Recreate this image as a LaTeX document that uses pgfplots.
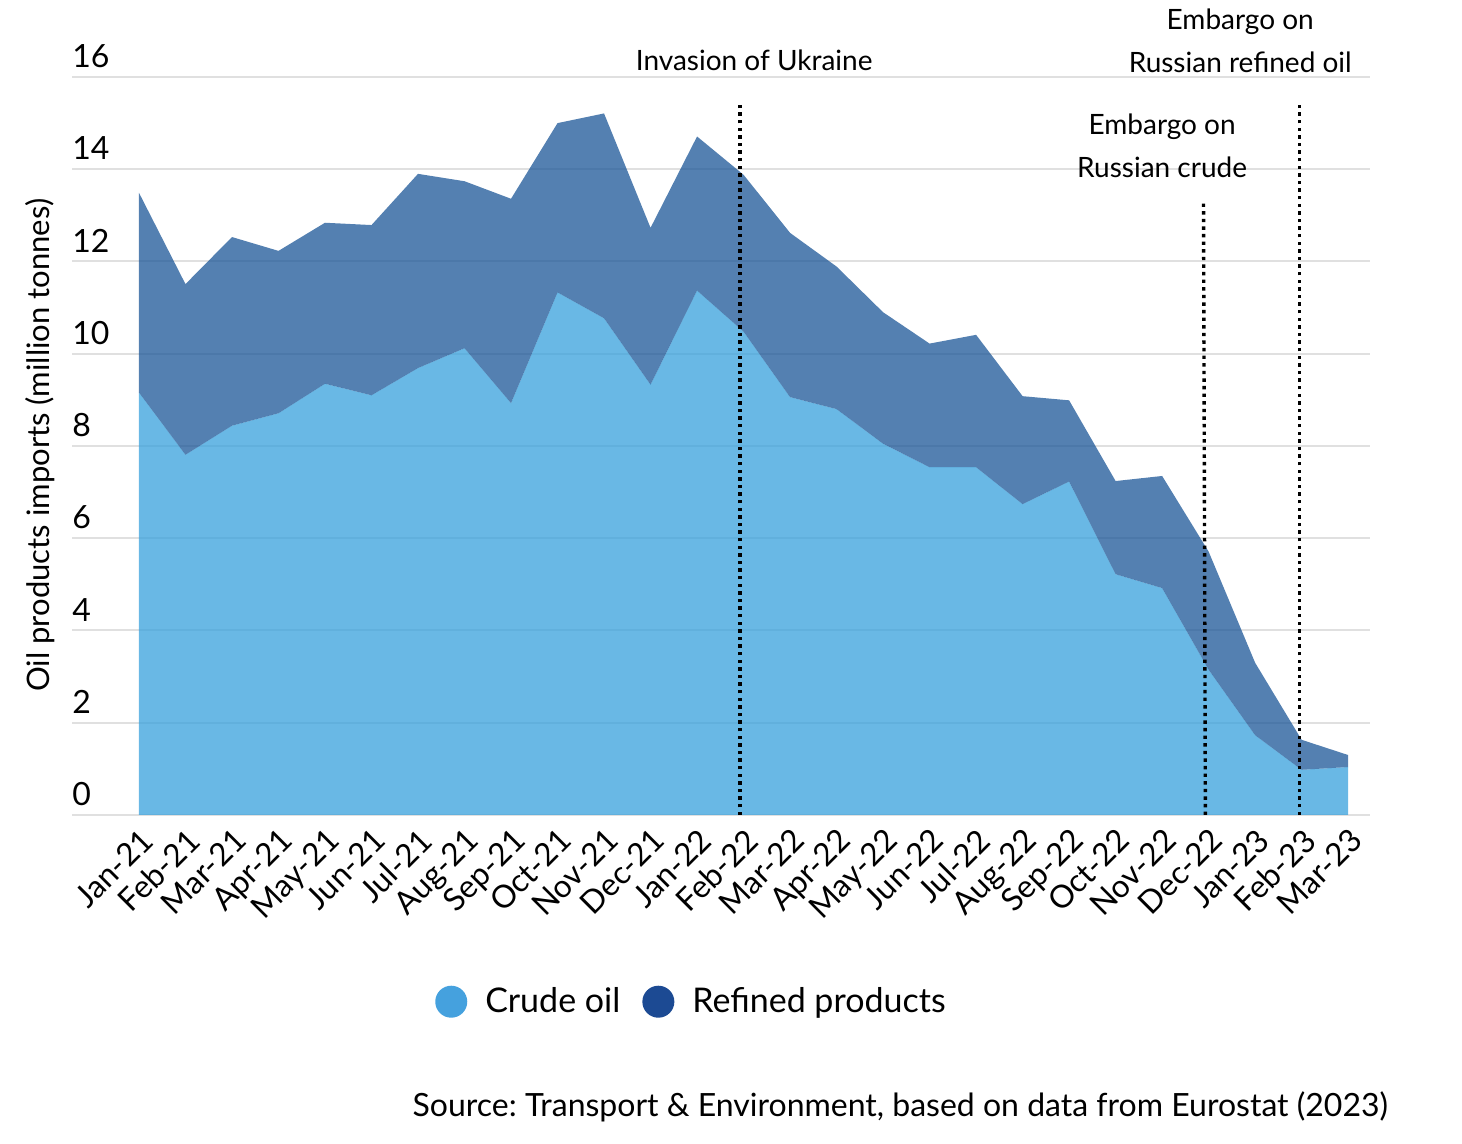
\documentclass[border=0pt]{standalone}
\usepackage{fontspec}
\setmainfont{Lato}
\usepackage{pgfplots}
\pgfplotsset{compat=1.18}
\usepgfplotslibrary{fillbetween}
\frenchspacing

\definecolor{crude}{RGB}{55,160,220}
\definecolor{refined}{RGB}{27,86,151}
\definecolor{crudekey}{RGB}{69,161,222}
\definecolor{refinedkey}{RGB}{28,74,147}
\definecolor{gridgray}{RGB}{224,224,224}

% Monthly EU imports of Russian oil (million tonnes): crude and crude+refined
\pgfplotstableread{
idx crude total
0  9.16 13.49
1  7.81 11.51
2  8.44 12.53
3  8.71 12.23
4  9.35 12.84
5  9.10 12.79
6  9.69 13.90
7  10.12 13.74
8  8.93 13.36
9  11.33 15.00
10 10.77 15.21
11 9.33 12.73
12 11.37 14.71
13 10.48 13.88
14 9.06 12.62
15 8.80 11.89
16 8.05 10.90
17 7.54 10.22
18 7.54 10.41
19 6.74 9.08
20 7.23 8.99
21 5.22 7.24
22 4.92 7.35
23 3.15 5.71
24 1.73 3.30
25 0.98 1.63
26 1.04 1.30
}\oiltable

\tikzset{event/.style={black, line width=1.7pt, dash pattern=on 1.7pt off 2.1pt}}

\begin{document}
\begin{tikzpicture}
\begin{axis}[
  name=main,
  scale only axis,
  width=649pt, height=369pt,
  xmin=-1.44, xmax=26.47,
  ymin=0, ymax=16,
  clip=false,
  axis line style={draw=none},
  major tick length=0pt,
  ytick={0,2,...,16},
  ymajorgrids,
  grid style={color=gridgray, line width=1pt},
  xtick={0,...,26},
  xticklabels={Jan-21,Feb-21,Mar-21,Apr-21,May-21,Jun-21,Jul-21,Aug-21,Sep-21,Oct-21,Nov-21,Dec-21,Jan-22,Feb-22,Mar-22,Apr-22,May-22,Jun-22,Jul-22,Aug-22,Sep-22,Oct-22,Nov-22,Dec-22,Jan-23,Feb-23,Mar-23},
  xticklabel style={rotate=45, anchor=north east, inner sep=0pt, xshift=-4pt, yshift=-4pt, font=\fontsize{15.8}{18}\selectfont},
  yticklabel style={anchor=south west, inner xsep=0pt, inner ysep=4.5pt, font=\fontsize{16}{18}\selectfont},
  /pgf/number format/assume math mode=true,
  ylabel={Oil products imports (million tonnes)},
  every axis y label/.style={at={(rel axis cs:-0.0247,0.501)}, rotate=90, anchor=center, font=\fontsize{15.5}{18}\selectfont},
  legend style={at={(rel axis cs:0.478,-0.253)}, anchor=center, draw=none, fill=none,
    legend columns=2, font=\fontsize{17}{20}\selectfont,
    /tikz/every even column/.append style={column sep=9pt}},
  legend image code/.code={\fill[#1] (0pt,0pt) circle (8pt); \path[draw=none, fill=none] (-8pt,-8pt) rectangle (15pt,8pt);},
]
  \addplot[draw=none, forget plot, name path=crudeline] table[x=idx, y=crude] {\oiltable};
  \addplot[draw=none, forget plot, name path=totalline] table[x=idx, y=total] {\oiltable};
  \addplot[draw=none, forget plot, name path=baseline] coordinates {(0,0) (26,0)};

  \addplot[fill=crude, fill opacity=0.75, draw=none, forget plot] fill between[of=crudeline and baseline];
  \addplot[fill=refined, fill opacity=0.75, draw=none, forget plot] fill between[of=totalline and crudeline];

  % event markers
  \addplot[event, forget plot] coordinates {(12.92,0) (12.92,15.47)};
  \addplot[event, forget plot] coordinates {(22.93,0) (22.89,13.34)};
  \addplot[event, forget plot] coordinates {(24.95,0) (24.95,15.47)};

  \node[font=\fontsize{14}{16}\selectfont] at (axis cs:13.23,16.36) {Invasion of Ukraine};
  \node[font=\fontsize{14}{16}\selectfont, align=center] at (axis cs:23.68,16.78) {Embargo on\\[5.5pt]Russian refined oil};
  \node[font=\fontsize{14}{16}\selectfont, align=center] at (axis cs:22.0,14.50) {Embargo on\\[5.5pt]Russian crude};

  \node[anchor=east, font=\fontsize{16}{18}\selectfont] at (rel axis cs:1.0193,-0.396) {Source: Transport \& Environment, based on data from Eurostat (2023)};

  \addlegendimage{fill=crudekey, draw=none}
  \addlegendentry{Crude oil}
  \addlegendimage{fill=refinedkey, draw=none}
  \addlegendentry{Refined products}
\end{axis}
\pgfresetboundingbox
\path (main.south west) ++(-36pt,-164.5pt) rectangle ++(731pt,572pt);
\end{tikzpicture}
\end{document}
